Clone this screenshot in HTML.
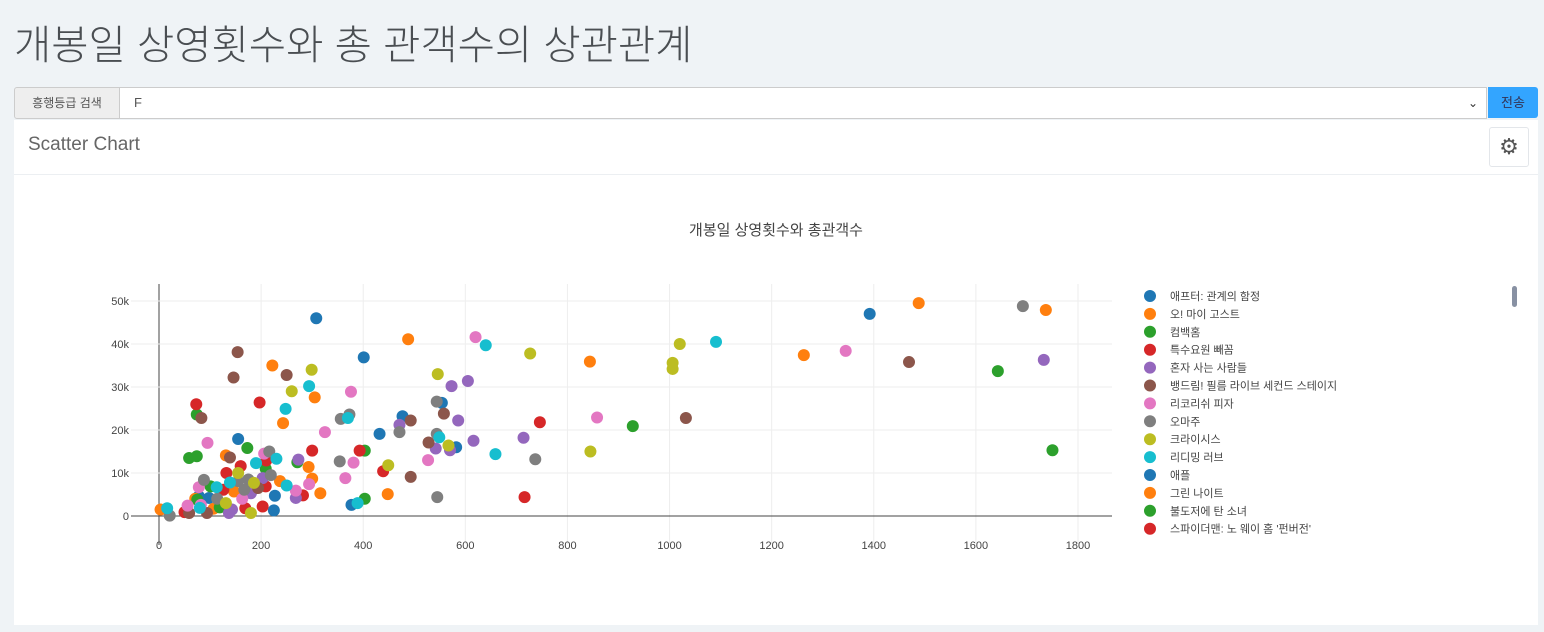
<!DOCTYPE html>
<html><head><meta charset="utf-8">
<style>
body{margin:0;width:1544px;height:632px;background:#eff3f6;font-family:"Liberation Sans","Noto Sans CJK KR",sans-serif;position:relative;overflow:hidden}
.abs{position:absolute}
</style></head><body>
<div class="abs" style="left:14px;top:12px;font-size:40.5px;color:#4a4e52;font-weight:300">개봉일 상영횟수와 총 관객수의 상관관계</div>
<div class="abs" style="left:14px;top:87px;width:104px;height:30px;background:#eee;border:1px solid #ccc;border-radius:3px 0 0 3px;font-size:12px;color:#555;line-height:30px;text-align:center">흥행등급 검색</div>
<div class="abs" style="left:119px;top:87px;width:1368px;height:32px;background:#fff;border:1px solid #ccc;box-sizing:border-box;font-size:13px;color:#555;line-height:30px;padding-left:14px">F<span style="position:absolute;right:8px;top:0;font-size:12px;color:#333">&#8964;</span></div>
<div class="abs" style="left:1488px;top:87px;width:50px;height:31px;background:#33a5ff;border-radius:0 3px 3px 0;font-size:13px;color:#335;line-height:31px;text-align:center">전송</div>
<div class="abs" style="left:14px;top:120px;width:1524px;height:505px;background:#fff"></div>
<div class="abs" style="left:28px;top:134px;font-size:19px;color:#666;font-weight:300">Scatter Chart</div>
<div class="abs" style="left:14px;top:174px;width:1524px;height:1px;background:#eceff2"></div>
<div class="abs" style="left:1489px;top:127px;width:38px;height:38px;border:1px solid #e3e6ea;border-radius:3px;font-size:22px;color:#555;line-height:38px;text-align:center">&#9881;</div>
<svg class="abs" style="left:0;top:0" width="1544" height="632" id="chart"></svg>
<script>
const xTicks=[0,200,400,600,800,1000,1200,1400,1600,1800];
const yTicks=[0,10,20,30,40,50];
const yTickLabels=["0","10k","20k","30k","40k","50k"];
const legendNames=["애프터: 관계의 함정","오! 마이 고스트","컴백홈","특수요원 빼꼼","혼자 사는 사람들","뱅드림! 필름 라이브 세컨드 스테이지","리코리쉬 피자","오마주","크라이시스","리디밍 러브","애플","그린 나이트","불도저에 탄 소녀","스파이더맨: 노 웨이 홈 '펀버전'"];
const colors=["#1f77b4","#ff7f0e","#2ca02c","#d62728","#9467bd","#8c564b","#e377c2","#7f7f7f","#bcbd22","#17becf"];
const screenings0=[308,401,155,432,477,554,582,377,227,225,78,98,1392];
const audience0=[46,36.9,17.9,19.1,23.2,26.3,16,2.6,4.7,1.3,4.6,4.2,47];
const screenings1=[488,222,305,243,844,293,300,316,448,237,131,147,71,3,107,1263,1488,1737];
const audience1=[41.1,35,27.6,21.6,35.9,11.4,8.7,5.3,5.1,8.1,14.1,5.7,4,1.5,1.7,37.4,49.5,47.9];
const screenings2=[74,59,74,173,271,209,403,403,186,101,119,75,928,1643,1750];
const audience2=[23.6,13.5,13.9,15.8,12.5,11,15.2,4,6.3,6.9,2,3.8,20.9,33.7,15.3];
const screenings3=[73,197,300,210,160,132,393,439,746,716,282,209,203,169,50,126];
const audience3=[26,26.4,15.2,12.9,11.6,10,15.2,10.4,21.8,4.4,4.8,6.9,2.2,1.8,0.9,6.1];
const screenings4=[573,605,586,616,471,542,570,714,273,268,203,180,137,143,1733];
const audience4=[30.2,31.4,22.2,17.5,21.2,15.7,15.3,18.2,13.1,4.2,8.8,5.3,0.7,1.5,36.3];
const screenings5=[154,146,83,250,493,558,528,493,139,94,59,194,1469,1032];
const audience5=[38.1,32.2,22.8,32.8,22.2,23.8,17.1,9.1,13.6,0.7,0.7,6.5,35.8,22.8];
const screenings6=[620,376,325,858,95,381,527,365,294,268,206,78,56,163,82,1345];
const audience6=[41.6,28.9,19.5,22.9,17,12.4,13,8.8,7.4,5.9,14.5,6.7,2.4,4,2.6,38.4];
const screenings7=[356,373,471,544,544,737,545,354,216,219,88,155,175,167,114,21,1692];
const audience7=[22.6,23.6,19.5,26.6,19.1,13.2,4.4,12.7,15,9.5,8.4,8.1,8.5,6.1,4,0.1,48.8];
const screenings8=[299,260,546,727,567,449,845,155,186,131,180,1020,1006,1006];
const audience8=[34,29,33,37.8,16.4,11.8,15,10,7.7,3,0.7,40,34.2,35.6];
const screenings9=[640,294,248,370,549,659,389,190,230,250,139,113,80,16,1091];
const audience9=[39.7,30.2,24.9,22.8,18.3,14.4,3,12.3,13.3,7.1,7.8,6.7,1.9,1.8,40.5];
const SX=[screenings0,screenings1,screenings2,screenings3,screenings4,screenings5,screenings6,screenings7,screenings8,screenings9];
const SY=[audience0,audience1,audience2,audience3,audience4,audience5,audience6,audience7,audience8,audience9];
const svg=document.getElementById('chart');
const NS='http://www.w3.org/2000/svg';
const x=v=>159+v*(919/1800);
const y=v=>516-v*4.3;
function mk(t,a,p){const e=document.createElementNS(NS,t);for(const k in a)e.setAttribute(k,a[k]);(p||svg).appendChild(e);return e;}
const title=mk('text',{x:776,y:235,'text-anchor':'middle','font-size':15,fill:'#444'});


title.textContent='개봉일 상영횟수와 총관객수';
xTicks.forEach(t=>{
 const g=mk('line',{x1:x(t),x2:x(t),y1:284,y2:t===0?545:544,stroke:t===0?'#444':'#eee','stroke-width':1});
 
 
 const l=mk('text',{x:x(t),y:549,'text-anchor':'middle','font-size':11,fill:'#444'});
 
 
 l.textContent=t;
});
yTicks.forEach((t,i)=>{
 const g=mk('line',{x1:131,x2:1112,y1:y(t),y2:y(t),stroke:t===0?'#444':'#eee','stroke-width':1});
 
 
 const l=mk('text',{x:129,y:y(t)+4,'text-anchor':'end','font-size':11,fill:'#444'});
 
 
 l.textContent=yTickLabels[i];
});
SX.forEach((xs,s)=>xs.forEach((v,i)=>{
 const c=mk('circle',{cx:x(v),cy:y(SY[s][i]),r:6,fill:colors[s]});
 
 
}));
legendNames.forEach((n,i)=>{
 const cy=296+i*17.9;
 const c=mk('circle',{cx:1150,cy:cy,r:6,fill:colors[i%10]});
 
 
 const t=mk('text',{x:1170,y:cy+4,'font-size':11,fill:'#444'});
 
 
 t.textContent=n;
});
const sb=mk('rect',{x:1512,y:286,width:5,height:21,rx:2.5,fill:'#8891a3'});


</script>
</body></html>
